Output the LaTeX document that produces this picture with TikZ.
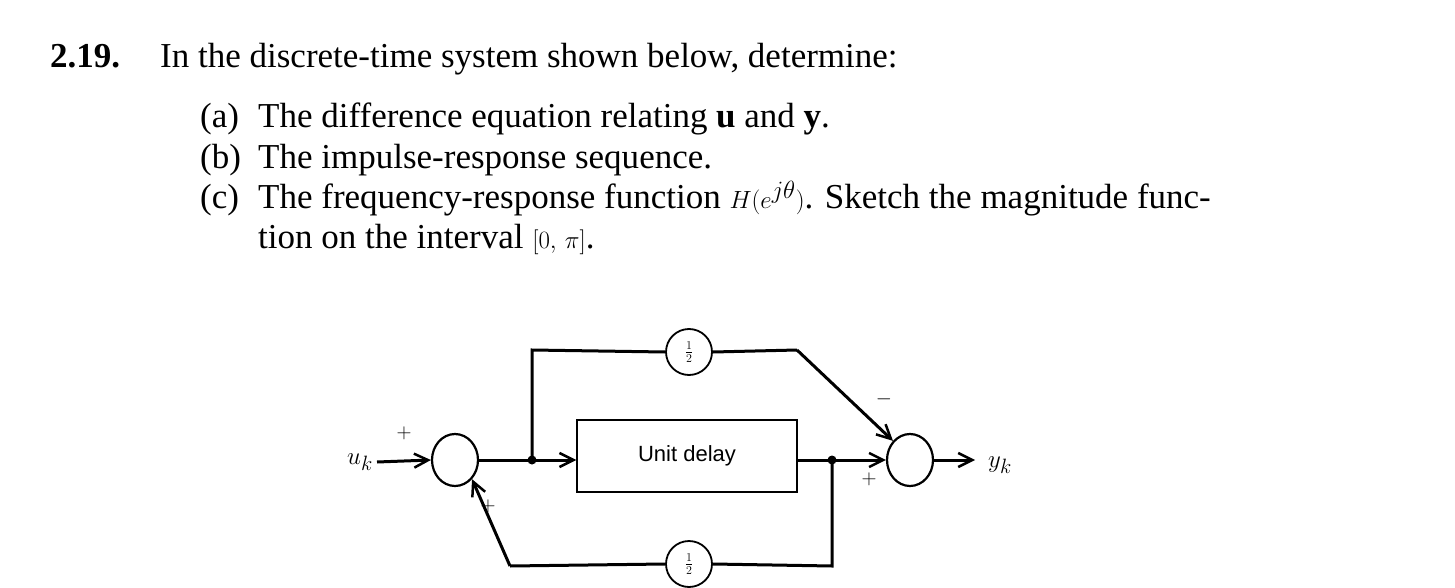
\documentclass[tikz,border=0pt]{standalone}
\usepackage{fontspec}
\setmainfont{Liberation Serif}
\setsansfont{Liberation Sans}
\usetikzlibrary{arrows.meta,shapes.geometric}
\begin{document}
\begin{tikzpicture}[x=1pt,y=-1pt,
  sumnode/.style={draw,line width=2.2pt,ellipse,minimum width=46pt,minimum height=52pt,inner sep=0pt,font=\fontsize{26}{26}\selectfont\bfseries},
  gain/.style={draw,line width=1.8pt,ellipse,minimum width=46pt,minimum height=46pt,inner sep=0pt,fill=white,font=\sffamily\fontsize{17}{17}\selectfont},
  wire/.style={line width=3pt},
  arr/.style={wire,-{Straight Barb[length=14pt,width=14pt,line width=2.5pt]}},
  txt/.style={anchor=base west,inner sep=0pt,font=\fontsize{35}{35}\selectfont},
  sgn/.style={font=\fontsize{20}{20}\selectfont,inner sep=0pt}]
\useasboundingbox (0,0) rectangle (1455,588);
\node[txt] (n0) at (50,68) {\bfseries 2.19.};
\node[txt] (t0) at (160,68) {In the discrete-time system shown below, determine:};
\node[txt] (a) at (200,128) {(a)};
\node[txt] (ta) at (258,128) {The difference equation relating \textbf{u} and \textbf{y}.};
\node[txt] (b) at (200,168) {(b)};
\node[txt] (tb) at (258,168) {The impulse-response sequence.};
\node[txt] (c) at (200,208) {(c)};
\node[txt] (tc) at (258,208) {The frequency-response function $H(e^{j\theta})$. Sketch the magnitude func-};
\node[txt] (tc2) at (258,248) {tion on the interval $[0,\,\pi]$.};

\node[sumnode] (s1) at (455,460) {$\mathbf{\Sigma}$};
\node[sumnode] (s2) at (910,460) {$\mathbf{\Sigma}$};
\node[draw,line width=1.5pt,minimum width=220pt,minimum height=72pt,font=\sffamily\fontsize{22}{22}\selectfont] (ud) at (687,456) {Unit delay};
\node[gain] (g1) at (689,352) {$\frac{1}{2}$};
\node[gain] (g2) at (689,564) {$\frac{1}{2}$};
\node[font=\fontsize{30}{30}\selectfont,inner sep=0pt] (u) at (360,462) {$u_k$};
\node[font=\fontsize{30}{30}\selectfont,inner sep=0pt] (y) at (1000,465) {$y_k$};
\coordinate (j1) at (532,460);
\coordinate (j2) at (832,460);
\coordinate (tl) at (532,350);
\coordinate (tr) at (797,350);
\coordinate (bl) at (510,566);
\coordinate (br) at (832,566);
\fill (j1) circle (4.5pt);
\fill (j2) circle (4.5pt);
\draw[arr] (u.east) ++(4,0) -- (s1.west);
\draw[wire] (s1.east) -- (j1);
\draw[arr] (j1) -- (ud.west |- j1);
\draw[wire] (j1) -- (tl) -- (g1.west);
\draw[wire] (g1.east) -- (tr);
\draw[arr] (tr) -- (s2.north west);
\draw[wire] (ud.east |- j2) -- (j2);
\draw[arr] (j2) -- (s2.west);
\draw[wire] (j2) -- (br) -- (g2.east);
\draw[wire] (g2.west) -- (bl);
\draw[arr] (bl) -- (s1.south east);
\draw[arr] (s2.east) -- (975,460);
\node[sgn] (p1) at (404,433) {$+$};
\node[sgn] (p2) at (488,506) {$+$};
\node[sgn] (p3) at (869,479) {$+$};
\node[sgn] (m1) at (884,399) {$-$};
\end{tikzpicture}
\end{document}
